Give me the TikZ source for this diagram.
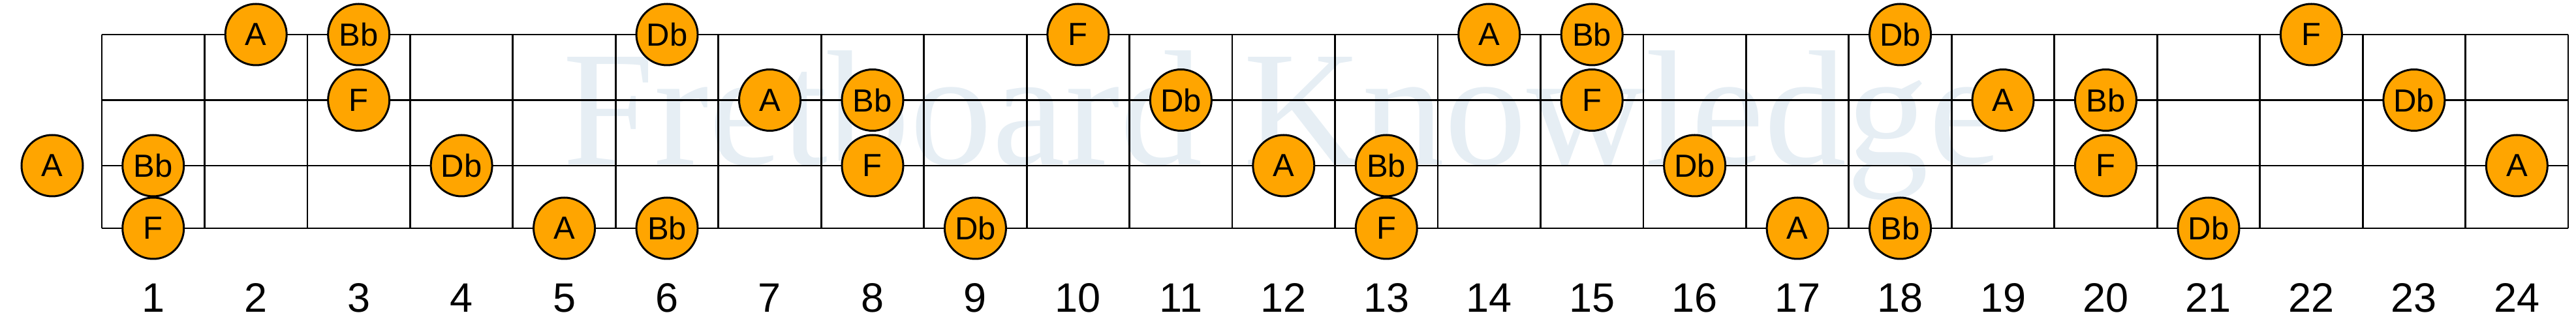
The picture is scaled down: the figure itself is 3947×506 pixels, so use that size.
\documentclass[tikz,border=0pt]{standalone}
\usepackage{fontspec}
\setmainfont{Liberation Sans}
\newfontfamily\markfont{Liberation Serif}
\definecolor{noteorange}{RGB}{255,165,0}
\definecolor{markblue}{RGB}{230,238,244}

\begin{document}
\begin{tikzpicture}[x=0.5pt,y=0.5pt,yscale=-1,
    gridline/.style={line width=1.4pt},
    note/.style={circle,draw=black,line width=1.5pt,fill=noteorange,minimum size=47pt,inner sep=0pt,font=\fontsize{24.5}{24.5}\selectfont},
    fretnum/.style={inner sep=0pt,font=\fontsize{31.5}{31.5}\selectfont}]
        \useasboundingbox (0,0) rectangle (3947,506);

        % Watermark
        \node [anchor=base west,inner sep=0pt,text=markblue,font=\markfont\fontsize{126}{126}\selectfont] (mark) at (862,253) {Fretboard Knowledge};

        %Shape: Strings
        \foreach \y in {53,153.5,254,350}
            \draw [gridline] (156,\y) -- (3935,\y);
        %Shape: Frets
        \foreach \f in {0,...,24}
            \draw [gridline] ({156+157.46*\f},53) -- ({156+157.46*\f},350);

        % Fret numbers
        \foreach \f in {1,...,24}
            \node [fretnum] (num\f) at ({156+157.46*(\f-0.5)},457) {\f};

        % Open string
        \node [note] (open3) at (80,254) {A};
        % Fretted notes: string/fret/name
        \foreach \s/\f/\n in {1/2/A,1/3/Bb,1/6/Db,1/10/F,1/14/A,1/15/Bb,1/18/Db,1/22/F,
                              2/3/F,2/7/A,2/8/Bb,2/11/Db,2/15/F,2/19/A,2/20/Bb,2/23/Db,
                              3/1/Bb,3/4/Db,3/8/F,3/12/A,3/13/Bb,3/16/Db,3/20/F,3/24/A,
                              4/1/F,4/5/A,4/6/Bb,4/9/Db,4/13/F,4/17/A,4/18/Bb,4/21/Db}
        {
            \ifcase\s\or\def\y{53}\or\def\y{153.5}\or\def\y{254}\or\def\y{350}\fi
            \node [note] (n\s-\f) at ({156+157.46*(\f-0.5)},\y) {\n};
        }

\end{tikzpicture}
\end{document}
